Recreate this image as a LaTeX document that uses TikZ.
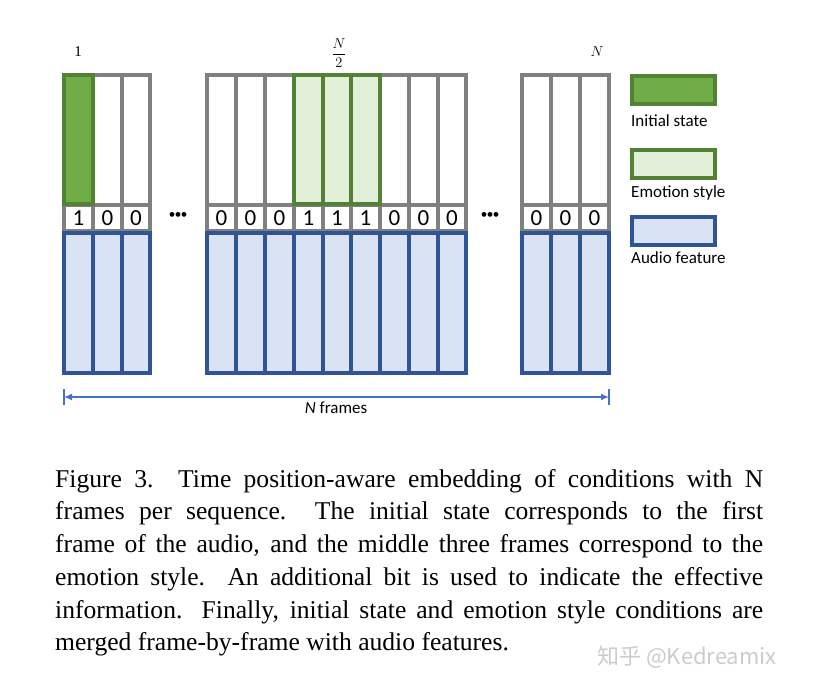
\documentclass[tikz,border=0pt]{standalone}
\usepackage{fontspec}
\setmainfont{Liberation Serif}
\newfontfamily\calib{Carlito}
\newfontfamily\cjk{Noto Sans CJK SC}
\usetikzlibrary{arrows.meta}
\definecolor{grayb}{RGB}{128,128,128}
\definecolor{gdark}{RGB}{112,173,71}
\definecolor{gbord}{RGB}{84,130,53}
\definecolor{glight}{RGB}{226,240,217}
\definecolor{blight}{RGB}{218,227,243}
\definecolor{bbord}{RGB}{47,85,151}
\definecolor{arrowc}{RGB}{68,114,196}
\begin{document}
\begin{tikzpicture}[x=1pt,y=-1pt,
  top/.style={draw=grayb,line width=4pt,fill=white},
  bit/.style={draw=grayb,line width=4pt,fill=white},
  aud/.style={draw=bbord,line width=4pt,fill=blight},
  ini/.style={draw=gbord,line width=4pt,fill=gdark},
  emo/.style={draw=gbord,line width=4pt,fill=glight},
  bitt/.style={font=\calib\fontsize{23}{23}\selectfont,inner sep=0pt},
  lab/.style={font=\calib\fontsize{17}{17}\selectfont,anchor=west,inner sep=0pt},
  idx/.style={font=\fontsize{15}{15}\selectfont,inner sep=0pt},
  dots/.style={font=\fontsize{20}{20}\selectfont,inner sep=0pt}]
\useasboundingbox (0,0) rectangle (821,691);
\fill[white] (0,0) rectangle (821,691);
\foreach \xl/\w/\b [count=\i] in {64/29/1,93/29/0,122/28/0,
  207/29/0,236/29/0,265/29/0,294/29/1,323/28/1,351/29/1,380/29/0,409/29/0,438/28/0,
  522/29/0,551/29/0,580/29/0}{
  \draw[top] (\xl,75) rectangle (\xl+\w,205);
  \draw[bit] (\xl,205) rectangle (\xl+\w,231);
  \node[bitt] (b\i) at (\xl+\w/2,218) {\b};
  \draw[aud] (\xl,233) rectangle (\xl+\w,373);
}
\draw[ini] (64,75) rectangle (93,204);
\draw[emo] (294,75) rectangle (380,204);
\draw[gbord,line width=4pt] (323,75) -- (323,204) (351,75) -- (351,204);
\node[idx] (i1) at (78,52) {1};
\node[idx] (iN2) at (339,53) {$\displaystyle\frac{N}{2}$};
\node[idx] (iN) at (597,52) {$N$};
\node[dots] (d1) at (178,217) {\textbullet\kern-1pt\textbullet\kern-1pt\textbullet};
\node[dots] (d2) at (490,217) {\textbullet\kern-1pt\textbullet\kern-1pt\textbullet};
\draw[ini] (632,76) rectangle (715,104);
\node[lab] (l1) at (631,121) {Initial state};
\draw[emo] (632,150) rectangle (715,178);
\node[lab] (l2) at (631,193) {Emotion style};
\draw[aud] (632,217) rectangle (715,245);
\node[lab] (l3) at (631,258) {Audio feature};
\coordinate (L) at (64,397);
\coordinate (R) at (609,397);
\draw[arrowc,line width=1.5pt,{Latex[length=8pt,width=7pt]}-{Latex[length=8pt,width=7pt]}] (L) -- (R);
\draw[arrowc,line width=2pt] (64,389) -- (64,405) (609,389) -- (609,405);
\node[font=\calib\fontsize{17}{17}\selectfont,inner sep=0pt] (nf) at (336,408) {\textit{N} frames};
\node[anchor=north west,inner sep=0pt,text width=708pt,align=justify,
  font=\fontsize{25.6}{32.7}\selectfont] (cap) at (55,469)
{Figure 3.\ \ Time position-aware embedding of conditions with N\linebreak
frames per sequence.\ \ The initial state corresponds to the first\linebreak
frame of the audio, and the middle three frames correspond to the\linebreak
emotion style.\ \ An additional bit is used to indicate the effective\linebreak
information. Finally, initial state and emotion style conditions are\linebreak
merged frame-by-frame with audio features.};
\node[anchor=west,inner sep=0pt,text=black!20,font=\cjk\fontsize{22}{22}\selectfont] (wm) at (597,657) {知乎 @Kedreamix};
\end{tikzpicture}
\end{document}
